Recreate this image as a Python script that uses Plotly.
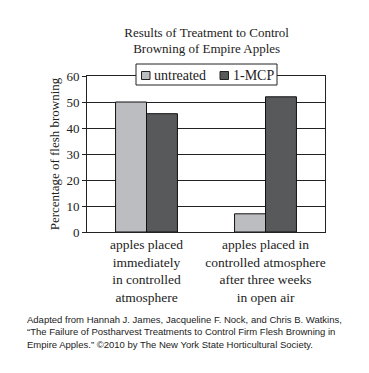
import plotly.graph_objects as go

categories = ["apples placed<br>immediately<br>in controlled<br>atmosphere",
              "apples placed in<br>controlled atmosphere<br>after three weeks<br>in open air"]
series_names = ["untreated", "1-MCP"]
untreated = [50, 7]
mcp = [45.5, 52]
yticks = [0, 10, 20, 30, 40, 50, 60]
colors = ["#bcbdc0", "#58595b"]

serif = "Liberation Serif"
W, H = 369, 373
L, R, T, B = 87, 44, 76, 141
PW, PH = W - L - R, H - T - B

def px(x):
    return (x - L) / PW

def py(y):
    return (H - B - y) / PH

fig = go.Figure()
for name, vals, col in zip(series_names, [untreated, mcp], colors):
    fig.add_trace(go.Bar(x=categories, y=vals, name=name,
                         marker=dict(color=col, line=dict(color="#111", width=1))))

fig.update_layout(
    width=W, height=H,
    margin=dict(l=L, r=R, t=T, b=B),
    paper_bgcolor="white", plot_bgcolor="white",
    font=dict(family=serif, size=13, color="#222"),
    title=dict(text="Results of Treatment to Control<br>Browning of Empire Apples",
               x=0.56, xanchor="center", y=0.902, yanchor="middle",
               font=dict(family=serif, size=13, color="#222")),
    barmode="group", bargap=0.48, bargroupgap=0,
    showlegend=False,
    xaxis=dict(showline=True, linecolor="#222", linewidth=1, mirror=True,
               tickfont=dict(family=serif, size=13.5, color="#222"), ticks=""),
    yaxis=dict(range=[0, 60], tickvals=yticks, showline=True, linecolor="#222",
               linewidth=1, mirror=True, showgrid=True, gridcolor="#222", gridwidth=1.3,
               ticks="outside", ticklen=4, tickcolor="#222",
               tickfont=dict(family=serif, size=13, color="#222"),
               title=dict(text="Percentage of flesh browning", standoff=3,
                          font=dict(family=serif, size=13, color="#222"))),
)

# legend box drawn over the top gridline
fig.add_shape(type="rect", xref="paper", yref="paper",
              x0=px(136), x1=px(277), y0=py(85), y1=py(64),
              fillcolor="white", line=dict(color="#222", width=1), layer="above")
sym_x = [141.5, 220]
txt_x = [151.5, 230.5]
for name, col, sx, tx in zip(series_names, colors, sym_x, txt_x):
    fig.add_shape(type="rect", xref="paper", yref="paper",
                  x0=px(sx), x1=px(sx + 8.5), y0=py(79.5), y1=py(71.5),
                  fillcolor=col, line=dict(color="#222", width=1), layer="above")
    fig.add_annotation(text=name, xref="paper", yref="paper", x=px(tx), y=py(75),
                       xanchor="left", yanchor="middle", showarrow=False,
                       font=dict(family=serif, size=14, color="#222"))

fig.add_annotation(
    text="Adapted from Hannah J. James, Jacqueline F. Nock, and Chris B. Watkins,<br>"
         "“The Failure of Postharvest Treatments to Control Firm Flesh Browning in<br>"
         "Empire Apples.” ©2010 by The New York State Horticultural Society.",
    xref="paper", yref="paper", x=-0.26, y=-0.513, xanchor="left", yanchor="top",
    align="left", showarrow=False,
    font=dict(family="Liberation Sans", size=9.5, color="#222"))

fig.write_html("out.html", config={"displayModeBar": False},
               post_script="document.body.style.margin='0px';")
